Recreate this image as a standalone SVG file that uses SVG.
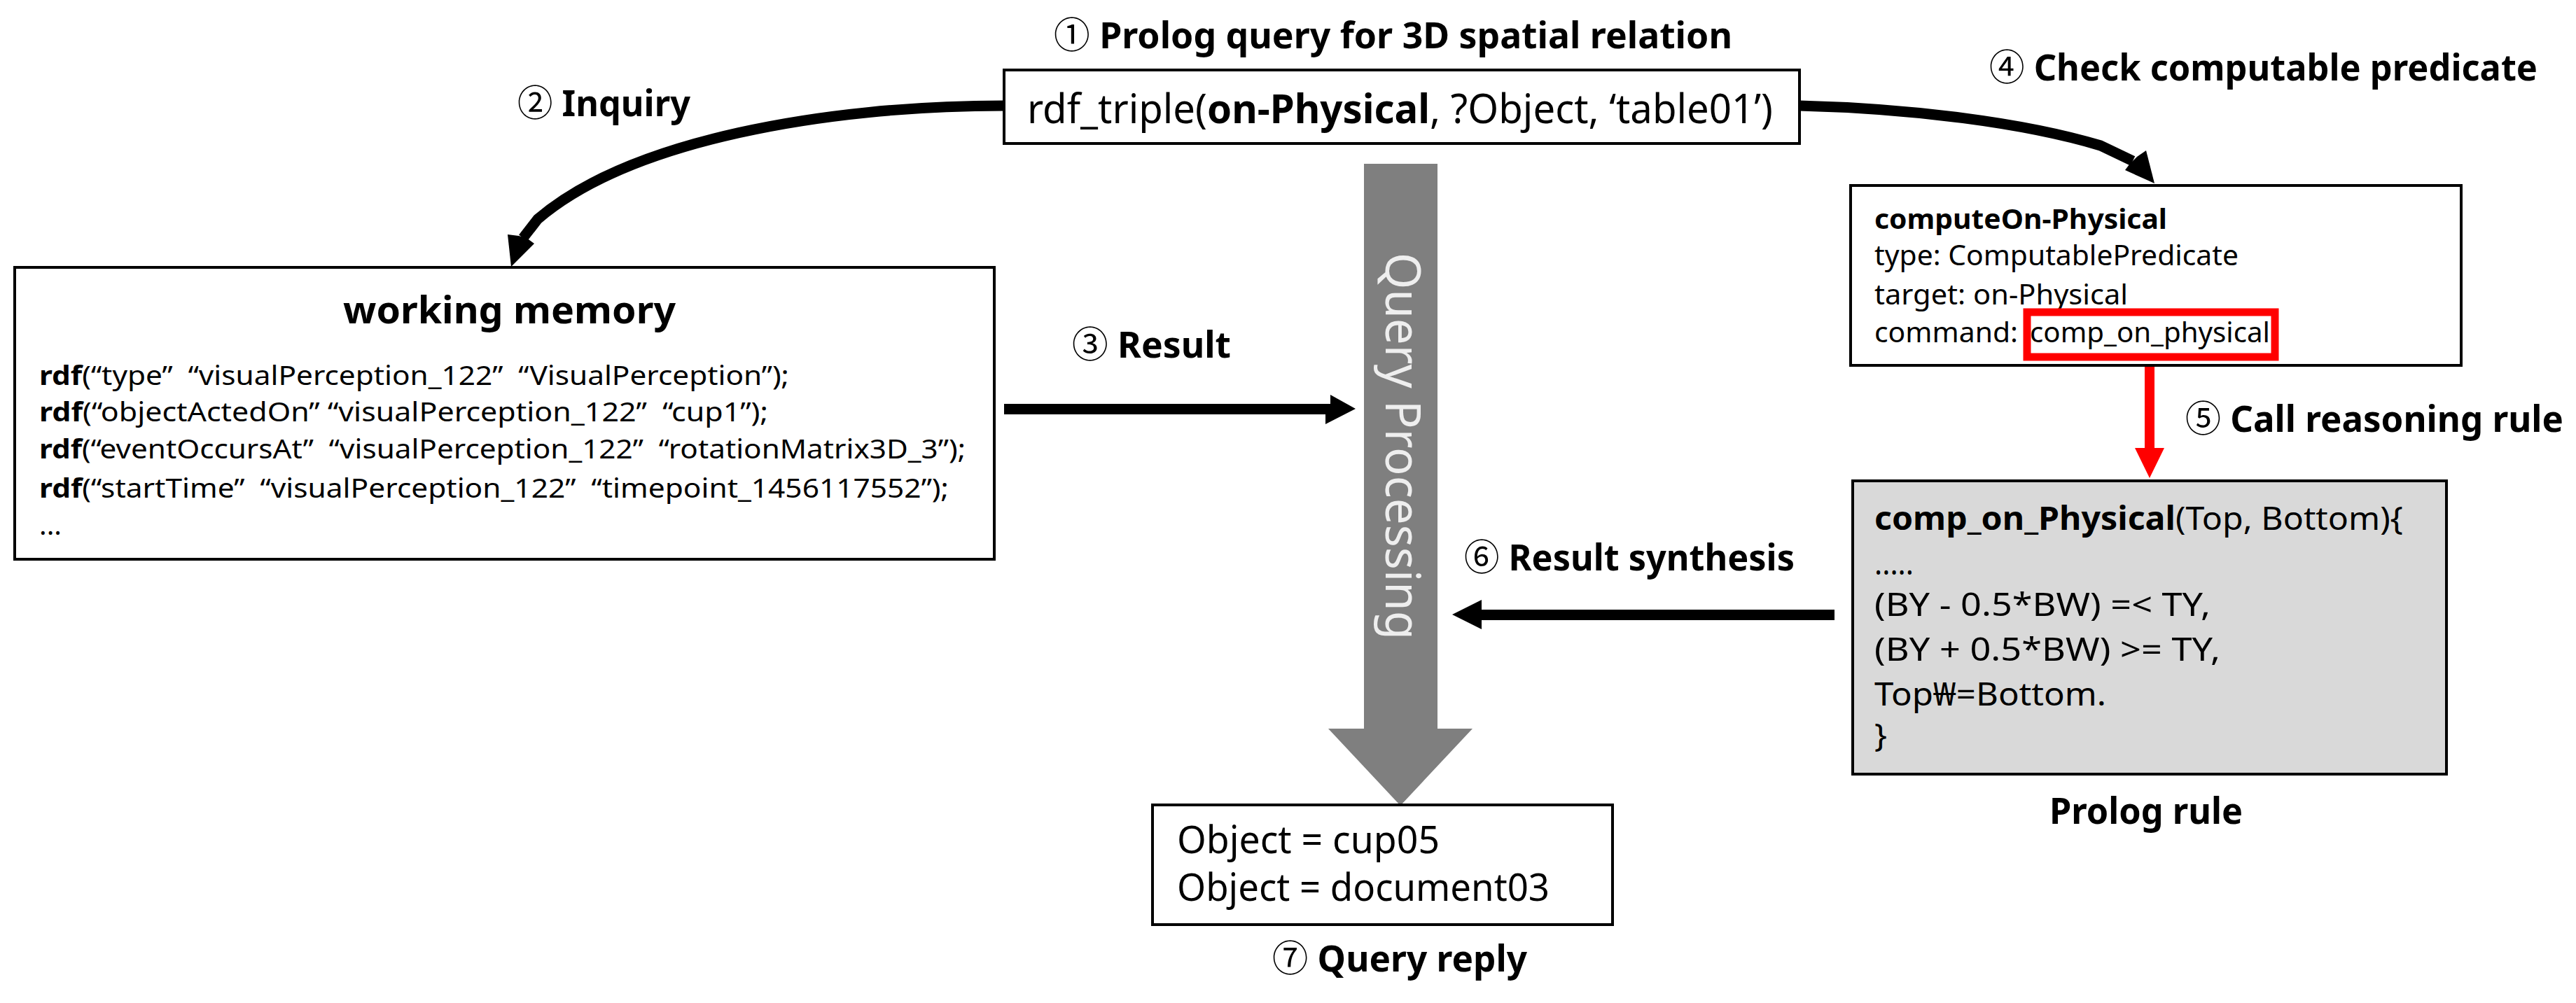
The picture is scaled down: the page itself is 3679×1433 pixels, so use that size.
<svg xmlns="http://www.w3.org/2000/svg" width="3679" height="1433" viewBox="0 0 3679 1433">
<style>
text{font-family:"Noto Sans","Noto Sans CJK KR",sans-serif;fill:#000;white-space:pre}
.b{font-weight:700}
.n{font-weight:400}
.lab{font-size:52px;font-weight:700}
.wm{font-size:38px}
.cp{font-size:40px}
.pr{font-size:46px}
.ob{font-size:54px}
.box{fill:#fff;stroke:#000;stroke-width:4}
.ar{fill:none;stroke:#000;stroke-width:15}
</style>
<g id="connectors">
<path class="ar" d="M1434 151C1180 151 900 200 768 313L747 340"/>
<path d="M730 381L725 335L741 337L752 340L763 348Z" fill="#000"/>
<path class="ar" d="M2570 151C2730 155 2890 175 3000 208L3046 230"/>
<path d="M3077 262L3065 215L3052 224L3041 235L3035 243Z" fill="#000"/>
<path d="M1434 577H1900V564L1936 584L1893 606V592H1434Z" fill="#000"/>
<path d="M2620 871H2116V857L2074 878L2116 899V886H2620Z" fill="#000"/>
<path d="M3063 515H3077V640H3091L3070 683L3049 640H3063Z" fill="#f00"/>
</g>
<g id="query-processing">
<path d="M1948 234H2053V1041H2103L2000 1151L1897 1041H1948Z" fill="#7f7f7f"/>
<text transform="translate(1979 361) rotate(90)" font-size="70" textLength="553" lengthAdjust="spacingAndGlyphs" style="fill:#eee">Query Processing</text>
</g>
<g id="query">
<rect class="box" x="1434" y="100" width="1136" height="105"/>
<text x="1467" y="176" font-size="58" textLength="1065" lengthAdjust="spacingAndGlyphs">rdf_triple(<tspan class="b">on-Physical</tspan>, ?Object, ‘table01’)</text>
</g>
<g id="working-memory">
<rect class="box" x="21" y="382" width="1399" height="417"/>
<text x="490" y="462" font-size="54" class="b" textLength="475" lengthAdjust="spacingAndGlyphs">working memory</text>
<text class="wm" x="56" y="550" textLength="1071" lengthAdjust="spacingAndGlyphs"><tspan class="b">rdf</tspan>(“type”  “visualPerception_122”  “VisualPerception”);</text>
<text class="wm" x="56" y="602" textLength="1041" lengthAdjust="spacingAndGlyphs"><tspan class="b">rdf</tspan>(“objectActedOn” “visualPerception_122”  “cup1”);</text>
<text class="wm" x="56" y="655" textLength="1323" lengthAdjust="spacingAndGlyphs"><tspan class="b">rdf</tspan>(“eventOccursAt”  “visualPerception_122”  “rotationMatrix3D_3”);</text>
<text class="wm" x="56" y="711" textLength="1299" lengthAdjust="spacingAndGlyphs"><tspan class="b">rdf</tspan>(“startTime”  “visualPerception_122”  “timepoint_1456117552”);</text>
<text class="wm" x="56" y="764" textLength="32" lengthAdjust="spacingAndGlyphs">...</text>
</g>
<g id="computable-predicate">
<rect class="box" x="2643" y="265" width="872" height="257"/>
<text class="cp b" x="2677" y="327" textLength="418" lengthAdjust="spacingAndGlyphs">computeOn-Physical</text>
<text class="cp" x="2677" y="379" textLength="520" lengthAdjust="spacingAndGlyphs">type: ComputablePredicate</text>
<text class="cp" x="2677" y="435" textLength="362" lengthAdjust="spacingAndGlyphs">target: on-Physical</text>
<text class="cp" x="2677" y="489" textLength="205" lengthAdjust="spacingAndGlyphs">command:</text>
<text class="cp" x="2899" y="489" textLength="343" lengthAdjust="spacingAndGlyphs">comp_on_physical</text>
<rect x="2895" y="446" width="354" height="64" fill="none" stroke="#f00" stroke-width="11"/>
</g>
<g id="prolog-rule">
<rect class="box" x="2646" y="687" width="848" height="419" style="fill:#d9d9d9"/>
<text class="pr" x="2677" y="757" textLength="755" lengthAdjust="spacingAndGlyphs"><tspan class="b">comp_on_Physical</tspan>(Top, Bottom){</text>
<text class="pr" x="2677" y="821" textLength="56" lengthAdjust="spacingAndGlyphs">.....</text>
<text class="pr" x="2677" y="880" textLength="480" lengthAdjust="spacingAndGlyphs">(BY - 0.5*BW) =&lt; TY,</text>
<text class="pr" x="2677" y="944" textLength="494" lengthAdjust="spacingAndGlyphs">(BY + 0.5*BW) &gt;= TY,</text>
<text class="pr" x="2677" y="1008" textLength="331" lengthAdjust="spacingAndGlyphs">Top₩=Bottom.</text>
<text class="pr" x="2677" y="1067" textLength="18" lengthAdjust="spacingAndGlyphs">}</text>
</g>
<g id="query-reply">
<rect class="box" x="1646" y="1150" width="657" height="171"/>
<text class="ob" x="1681" y="1219" textLength="375" lengthAdjust="spacingAndGlyphs">Object = cup05</text>
<text class="ob" x="1681" y="1287" textLength="532" lengthAdjust="spacingAndGlyphs">Object = document03</text>
</g>
<g id="labels">
<text class="lab" x="1505" y="69" textLength="969" lengthAdjust="spacingAndGlyphs"><tspan class="n">①</tspan> Prolog query for 3D spatial relation</text>
<text class="lab" x="739" y="166" textLength="247" lengthAdjust="spacingAndGlyphs"><tspan class="n">②</tspan> Inquiry</text>
<text class="lab" x="1531" y="511" textLength="227" lengthAdjust="spacingAndGlyphs"><tspan class="n">③</tspan> Result</text>
<text class="lab" x="2841" y="115" textLength="783" lengthAdjust="spacingAndGlyphs"><tspan class="n">④</tspan> Check computable predicate</text>
<text class="lab" x="3121" y="617" textLength="540" lengthAdjust="spacingAndGlyphs"><tspan class="n">⑤</tspan> Call reasoning rule</text>
<text class="lab" x="2091" y="815" textLength="472" lengthAdjust="spacingAndGlyphs"><tspan class="n">⑥</tspan> Result synthesis</text>
<text class="lab" x="1817" y="1388" textLength="364" lengthAdjust="spacingAndGlyphs"><tspan class="n">⑦</tspan> Query reply</text>
<text class="lab" x="2927" y="1177" textLength="276" lengthAdjust="spacingAndGlyphs">Prolog rule</text>
</g>
</svg>
